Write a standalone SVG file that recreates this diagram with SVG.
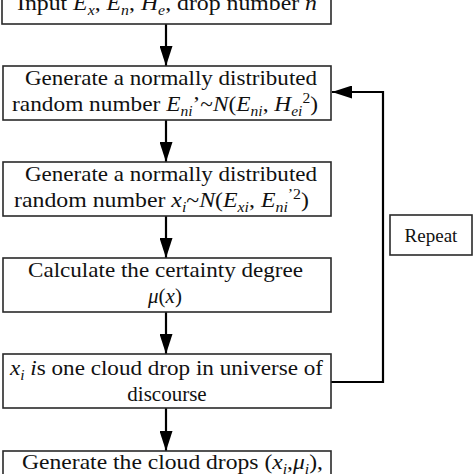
<svg xmlns="http://www.w3.org/2000/svg" width="474" height="474" viewBox="0 0 474 474">
<defs>
<style>
.box{fill:#fff;stroke:#2a2a2a;stroke-width:1.6}
.t{font-family:"Liberation Serif","Times New Roman",serif;font-size:21px;fill:#111}
.r{font-family:"Liberation Serif","Times New Roman",serif;font-size:19px;fill:#111}
.i{font-style:italic}
.s{font-size:14px}
.ln{stroke:#000;stroke-width:2.2;fill:none}
</style>
<marker id="ah" viewBox="0 0 20 13" refX="20" refY="6.5" markerWidth="20" markerHeight="13" markerUnits="userSpaceOnUse" orient="auto">
<path d="M0,0 L20,6.5 L0,13 Z" fill="#000"/>
</marker>
</defs>
<rect width="474" height="474" fill="#fff"/>
<g id="connectors">
<line class="ln" x1="166" y1="24" x2="166" y2="66" marker-end="url(#ah)"/>
<line class="ln" x1="166" y1="120" x2="166" y2="162" marker-end="url(#ah)"/>
<line class="ln" x1="166" y1="216" x2="166" y2="258" marker-end="url(#ah)"/>
<line class="ln" x1="166" y1="312" x2="166" y2="354" marker-end="url(#ah)"/>
<line class="ln" x1="166" y1="408" x2="166" y2="451" marker-end="url(#ah)"/>
<polyline class="ln" points="331,382 383,382 383,92 332,92" marker-end="url(#ah)"/>
</g>
<g id="n1">
<rect class="box" x="2" y="-30" width="329" height="54"/>
<text class="t" x="17" y="10" textLength="300" lengthAdjust="spacingAndGlyphs">Input <tspan class="i">E</tspan><tspan class="i s" dy="5">x</tspan><tspan dy="-5">, </tspan><tspan class="i">E</tspan><tspan class="i s" dy="5">n</tspan><tspan dy="-5">, </tspan><tspan class="i">H</tspan><tspan class="i s" dy="5">e</tspan><tspan dy="-5">, drop number </tspan><tspan class="i">n</tspan></text>
</g>
<g id="n2">
<rect class="box" x="3" y="66" width="328" height="54"/>
<text class="t" x="25" y="85" textLength="292" lengthAdjust="spacingAndGlyphs">Generate a normally distributed</text>
<text class="t" x="12" y="111" textLength="306" lengthAdjust="spacingAndGlyphs">random number <tspan class="i">E</tspan><tspan class="i s" dy="5">ni</tspan><tspan dy="-5">’~</tspan><tspan class="i">N</tspan>(<tspan class="i">E</tspan><tspan class="i s" dy="5">ni</tspan><tspan dy="-5">, </tspan><tspan class="i">H</tspan><tspan class="i s" dy="5">ei</tspan><tspan class="s" dy="-13">2</tspan><tspan dy="8">)</tspan></text>
</g>
<g id="n3">
<rect class="box" x="3" y="162" width="328" height="54"/>
<text class="t" x="25" y="181" textLength="292" lengthAdjust="spacingAndGlyphs">Generate a normally distributed</text>
<text class="t" x="14" y="207" textLength="295" lengthAdjust="spacingAndGlyphs">random number <tspan class="i">x</tspan><tspan class="i s" dy="5">i</tspan><tspan dy="-5">~</tspan><tspan class="i">N</tspan>(<tspan class="i">E</tspan><tspan class="i s" dy="5">xi</tspan><tspan dy="-5">, </tspan><tspan class="i">E</tspan><tspan class="i s" dy="5">ni</tspan><tspan class="s" dy="-13">’2</tspan><tspan dy="8">)</tspan></text>
</g>
<g id="n4">
<rect class="box" x="3" y="258" width="328" height="54"/>
<text class="t" x="28" y="277" textLength="275" lengthAdjust="spacingAndGlyphs">Calculate the certainty degree</text>
<text class="t" x="165" y="303" text-anchor="middle"><tspan class="i">μ</tspan>(<tspan class="i">x</tspan>)</text>
</g>
<g id="n5">
<rect class="box" x="3" y="354" width="328" height="54"/>
<text class="t" x="10" y="375" textLength="313" lengthAdjust="spacingAndGlyphs"><tspan class="i">x</tspan><tspan class="i s" dy="5">i</tspan><tspan dy="-5"> </tspan><tspan class="i">i</tspan>s one cloud drop in universe of</text>
<text class="t" x="167" y="401" text-anchor="middle">discourse</text>
</g>
<g id="n6">
<rect class="box" x="3" y="451" width="328" height="54"/>
<text class="t" x="22" y="469" textLength="301" lengthAdjust="spacingAndGlyphs">Generate the cloud drops (<tspan class="i">x</tspan><tspan class="i s" dy="5">i</tspan><tspan dy="-5">,</tspan><tspan class="i">μ</tspan><tspan class="i s" dy="5">i</tspan><tspan dy="-5">),</tspan></text>
</g>
<g id="repeat">
<rect class="box" x="390" y="215" width="82" height="40"/>
<text class="r" x="431" y="242" text-anchor="middle">Repeat</text>
</g>
</svg>
